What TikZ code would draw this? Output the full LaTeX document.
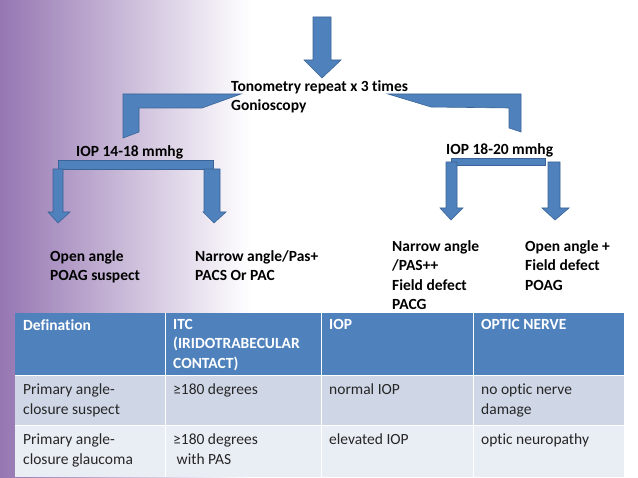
\documentclass[tikz,border=0pt]{standalone}
\usepackage{fontspec}
\setmainfont{Carlito}[Ligatures=NoCommon]
\definecolor{ablue}{HTML}{4F81BD}
\definecolor{aedge}{HTML}{3A6497}
\definecolor{rowa}{HTML}{CFD7E7}
\definecolor{rowb}{HTML}{E9EDF4}
\definecolor{purp}{HTML}{9576B2}
\begin{document}
\begin{tikzpicture}[x=1pt,y=-1pt,
  shp/.style={fill=ablue,draw=aedge,line width=0.6pt},
  lbl/.style={anchor=north west,inner sep=0pt,align=left,font=\fontsize{15.5}{19.5}\selectfont\bfseries,text=black},
  hd/.style={anchor=north west,inner sep=0pt,align=left,font=\fontsize{15.5}{19.5}\selectfont\bfseries,text=white},
  cl/.style={anchor=north west,inner sep=0pt,align=left,font=\fontsize{15.5}{19.5}\selectfont,text=black!85}]
\useasboundingbox (0,0) rectangle (638,478);
\fill[white] (0,0) rectangle (638,478);
\shade[left color=purp,right color=white] (0,0) rectangle (250,478);
% top arrow
\filldraw[shp] (313,17) -- (331,17) -- (331,60) -- (341,60) -- (322,78) -- (304,60) -- (313,60) -- cycle;
% left bent
\filldraw[shp] (123,94) -- (241,94) -- (202,108) -- (139,108) -- (139,132) -- (123,138) -- cycle;
% right bent
\filldraw[shp] (388,94) -- (521,94) -- (521,132) -- (509,128) -- (509,108) -- (431,107) -- cycle;
% left bracket
\filldraw[shp] (58,160) rectangle (213,169);
\filldraw[shp] (53,169) -- (63,169) -- (63,212) -- (70,212) -- (58,223) -- (48,212) -- (53,212) -- cycle;
\filldraw[shp] (204,169) -- (220,169) -- (220,212) -- (226,212) -- (214,223) -- (203,212) -- (204,212) -- cycle;
% right bracket
\filldraw[shp] (451,158) rectangle (545,165);
\filldraw[shp] (446,162) -- (457,162) -- (457,208) -- (463,208) -- (451,220) -- (440,208) -- (446,208) -- cycle;
\filldraw[shp] (548,162) -- (560,162) -- (560,208) -- (569,208) -- (555,220) -- (542,208) -- (548,208) -- cycle;
% labels
\node[lbl] (t1) at (231,80) {Tonometry repeat x 3 times\\Gonioscopy};
\node[lbl] (l1) at (76,145) {IOP 14-18 mmhg};
\node[lbl] (r1) at (446,143) {IOP 18-20 mmhg};
\node[lbl] (a) at (50,250) {Open angle\\POAG suspect};
\node[lbl] (b) at (195,250) {Narrow angle/Pas+\\PACS Or PAC};
\node[lbl] (c) at (392,240) {Narrow angle\\/PAS++\\Field defect\\PACG};
\node[lbl] (d) at (525,240) {Open angle +\\Field defect\\POAG};
% table
\fill[ablue] (15,313) rectangle (624,376);
\fill[rowa] (15,376) rectangle (624,426);
\fill[rowb] (15,426) rectangle (624,477);
\foreach \x in {165,321,473} \draw[white,line width=1pt] (\x,313) -- (\x,477);
\foreach \y in {376,426} \draw[white,line width=1pt] (15,\y) -- (624,\y);
\node[hd] (h1) at (23,319) {Defination};
\node[hd] (h2) at (173,319) {ITC\\(IRIDOTRABECULAR\\CONTACT)};
\node[hd] (h3) at (329,319) {IOP};
\node[hd] (h4) at (481,319) {OPTIC NERVE};
\node[cl] (c11) at (23,384) {Primary angle-\\closure suspect};
\node[cl] (c12) at (173,384) {≥180 degrees};
\node[cl] (c13) at (329,384) {normal IOP};
\node[cl] (c14) at (481,384) {no optic nerve\\damage};
\node[cl] (c21) at (23,434) {Primary angle-\\closure glaucoma};
\node[cl] (c22) at (173,434) {≥180 degrees\\\ with PAS};
\node[cl] (c23) at (329,434) {elevated IOP};
\node[cl] (c24) at (481,434) {optic neuropathy};
\end{tikzpicture}
\end{document}
